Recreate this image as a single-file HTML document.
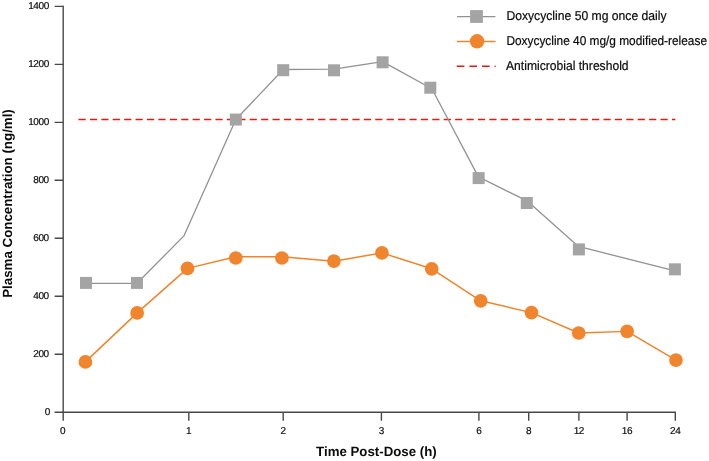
<!DOCTYPE html>
<html><head><meta charset="utf-8"><title>Plasma concentration chart</title>
<style>
html,body{margin:0;padding:0;background:#fff;}
svg{display:block;}
text{text-rendering:geometricPrecision;font-family:"Liberation Sans",Arial,Helvetica,sans-serif;fill:#0a0a0a;}
.tk{font-size:10px;letter-spacing:-0.4px;stroke:#0a0a0a;stroke-width:0.18px;}
.lg{font-size:12.9px;stroke:#0a0a0a;stroke-width:0.2px;}
.ax{font-size:13.3px;font-weight:bold;}
</style></head>
<body>
<svg width="709" height="461" viewBox="0 0 709 461">
<rect width="709" height="461" fill="#fff"/>
<g stroke="#484848" stroke-width="1.4" fill="none">
<path d="M63.2 5.80V412.80"/>
<path d="M54.6 6.40H63.2M54.6 64.37H63.2M54.6 122.34H63.2M54.6 180.31H63.2M54.6 238.28H63.2M54.6 296.25H63.2M54.6 354.22H63.2M54.6 412.19H63.2"/>
<path d="M62.60 412.2H676"/>
<path d="M63.2 412.2V420.7M188.8 412.2V420.7M283.2 412.2V420.7M381.4 412.2V420.7M478.9 412.2V420.7M528.7 412.2V420.7M578.9 412.2V420.7M627.1 412.2V420.7M675.3 412.2V420.7"/>
</g>
<g class="tk" text-anchor="end">
<text x="48.8" y="8.95">1400</text>
<text x="48.8" y="66.92">1200</text>
<text x="48.8" y="124.89">1000</text>
<text x="48.8" y="182.86">800</text>
<text x="48.8" y="240.83">600</text>
<text x="48.8" y="298.80">400</text>
<text x="48.8" y="356.77">200</text>
<text x="49.9" y="414.74">0</text>
</g>
<g class="tk" text-anchor="middle">
<text x="62.5" y="434.4">0</text>
<text x="188.7" y="434.4">1</text>
<text x="283.1" y="434.4">2</text>
<text x="381.3" y="434.4">3</text>
<text x="478.8" y="434.4">6</text>
<text x="528.6" y="434.4">8</text>
<text x="578.8" y="434.4">12</text>
<text x="627.0" y="434.4">16</text>
<text x="675.2" y="434.4">24</text>
</g>
<text class="ax" text-anchor="middle" x="376.4" y="455.7" textLength="120.6" lengthAdjust="spacingAndGlyphs">Time Post-Dose (h)</text>
<text class="ax" text-anchor="middle" transform="translate(11.8,203.5) rotate(-90)" textLength="188.6" lengthAdjust="spacingAndGlyphs">Plasma Concentration (ng/ml)</text>
<path d="M78.5 119.5H675.3" stroke="#e41a10" stroke-width="1.6" stroke-dasharray="7.2 4.212" fill="none"/>
<polyline fill="none" stroke="#929292" stroke-width="1.3" stroke-linejoin="round" points="86.0,283.3 137.0,283.3 183.9,235.9 235.8,119.55 283.2,69.5 334.0,69.2 382.6,61.6 431.9,88.8 478.4,176.9 527.0,200.8 578.4,246.45 675.0,270.85"/>
<g fill="#a4a4a4">
<rect x="80.00" y="276.90" width="12.0" height="12.0"/>
<rect x="131.00" y="276.90" width="12.0" height="12.0"/>
<rect x="229.80" y="113.55" width="12.0" height="12.0"/>
<rect x="277.20" y="64.20" width="12.0" height="12.0"/>
<rect x="328.00" y="64.30" width="12.0" height="12.0"/>
<rect x="376.60" y="56.30" width="12.0" height="12.0"/>
<rect x="424.30" y="81.70" width="12.0" height="12.0"/>
<rect x="472.65" y="172.10" width="12.0" height="12.0"/>
<rect x="520.80" y="197.00" width="12.0" height="12.0"/>
<rect x="572.90" y="243.40" width="12.0" height="12.0"/>
<rect x="668.90" y="263.35" width="12.0" height="12.0"/>
</g>
<polyline fill="none" stroke="#f0832a" stroke-width="1.45" stroke-linejoin="round" points="85.4,361.9 137.15,312.9 187.5,268.4 235.8,256.7 281.9,256.7 333.9,261.2 381.9,252.9 431.7,268.8 480.7,300.8 531.5,312.6 578.7,333.0 627.1,331.4 675.95,360.1"/>
<g fill="#f0852d">
<circle cx="85.4" cy="361.9" r="6.85"/>
<circle cx="137.15" cy="312.9" r="6.85"/>
<circle cx="187.5" cy="268.4" r="6.85"/>
<circle cx="235.8" cy="258.0" r="6.85"/>
<circle cx="281.9" cy="258.0" r="6.85"/>
<circle cx="333.9" cy="261.1" r="6.85"/>
<circle cx="381.9" cy="252.9" r="6.85"/>
<circle cx="431.7" cy="268.8" r="6.85"/>
<circle cx="480.7" cy="300.8" r="6.85"/>
<circle cx="531.5" cy="312.6" r="6.85"/>
<circle cx="578.7" cy="333.0" r="6.85"/>
<circle cx="627.1" cy="331.4" r="6.85"/>
<circle cx="675.95" cy="360.1" r="6.85"/>
</g>
<path d="M457 16.6H495.5" stroke="#929292" stroke-width="1.3"/>
<rect x="470.1" y="10.1" width="12.8" height="12.8" fill="#a4a4a4"/>
<path d="M457 41.5H495.5" stroke="#f0852d" stroke-width="1.5"/>
<circle cx="477.1" cy="41.3" r="7.2" fill="#f0852d"/>
<path d="M456.8 66.3H495.7" stroke="#e41a10" stroke-width="1.6" stroke-dasharray="7.6 5"/>
<g class="lg">
<text x="506.4" y="19.9" textLength="160.2" lengthAdjust="spacingAndGlyphs">Doxycycline 50 mg once daily</text>
<text x="506.4" y="44.7" textLength="200.6" lengthAdjust="spacingAndGlyphs">Doxycycline 40 mg/g modified-release</text>
<text x="506.0" y="69.9" textLength="122.6" lengthAdjust="spacingAndGlyphs">Antimicrobial threshold</text>
</g>
</svg>
</body></html>
